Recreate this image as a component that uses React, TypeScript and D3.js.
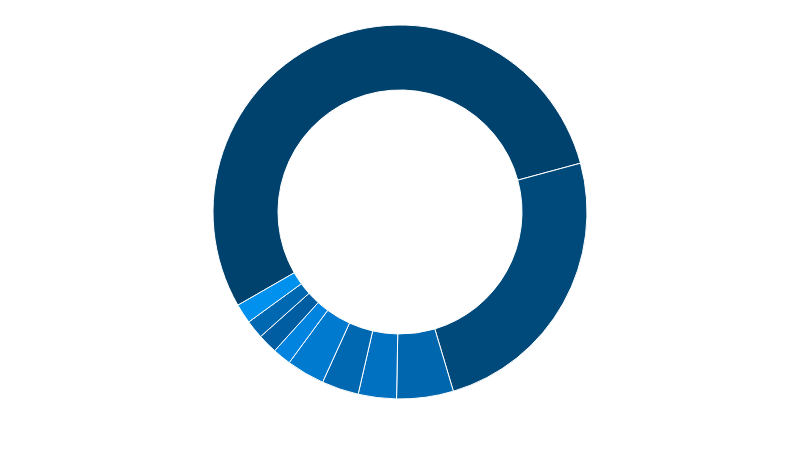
import React from "react";
import * as d3 from "d3";

const labels = ["A", "B", "C", "D", "E", "F", "G", "H", "I", "J"];
const values = [54.1, 24.6, 4.9, 3.3, 3.2, 3.3, 1.6, 1.7, 1.6, 1.7];
const colors = [
  "#00426e",
  "#004a7b",
  "#0066ad",
  "#0070c0",
  "#0068b0",
  "#007acf",
  "#0084df",
  "#005da2",
  "#0068b0",
  "#0090ee",
];

const width = 800;
const height = 450;
const cx = 400;
const cy = 212;
const outerRadius = 187;
const innerRadius = 122;
const startDeg = 240.1;

const App: React.FC = () => {
  const pie = d3
    .pie<number>()
    .sort(null)
    .value((d) => d)
    .startAngle((startDeg * Math.PI) / 180)
    .endAngle(((startDeg + 360) * Math.PI) / 180);

  const arc = d3
    .arc<d3.PieArcDatum<number>>()
    .innerRadius(innerRadius)
    .outerRadius(outerRadius);

  const arcs = pie(values);

  return (
    <svg
      width={width}
      height={height}
      style={{ position: "absolute", left: 0, top: 0, background: "#fff" }}
    >
      <g transform={`translate(${cx},${cy})`}>
        {arcs.map((a, i) => (
          <path
            key={labels[i]}
            d={arc(a) ?? ""}
            fill={colors[i]}
            stroke="#ffffff"
            strokeWidth={1}
          />
        ))}
      </g>
    </svg>
  );
};

export default App;
